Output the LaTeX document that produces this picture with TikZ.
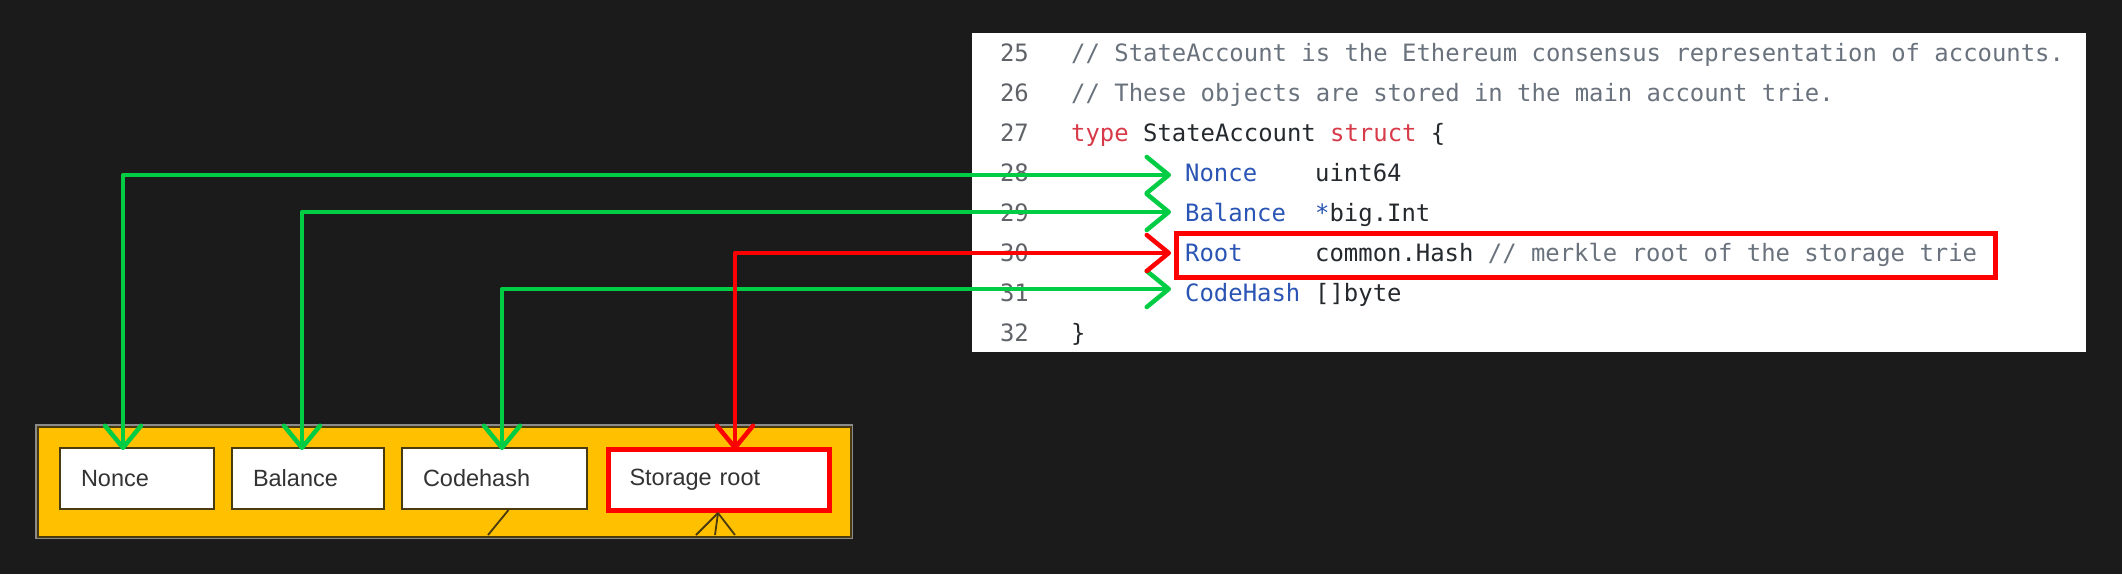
\documentclass[tikz,border=0pt]{standalone}
\usepackage{fontspec}
\setmainfont{Liberation Sans}
\newfontfamily\codefont{DejaVu Sans Mono}
\usetikzlibrary{arrows.meta}
\definecolor{bg}{HTML}{1B1B1B}
\definecolor{cmt}{HTML}{6A737D}
\definecolor{kw}{HTML}{D73A49}
\definecolor{fld}{HTML}{2A55B5}
\definecolor{txt}{HTML}{24292E}
\definecolor{lnum}{HTML}{5F6368}
\definecolor{gr}{HTML}{00CC44}
\definecolor{rd}{HTML}{FF0000}
\definecolor{orng}{HTML}{FFC000}
\definecolor{brd}{HTML}{4A3A10}
\definecolor{cgray}{HTML}{8A8A8A}
\tikzset{
  codeline/.style={anchor=west, inner sep=0pt, text=txt,
    font=\codefont\fontsize{23.9}{28}\selectfont, text height=17pt, text depth=0pt},
  lnumber/.style={codeline, anchor=east, text=lnum},
  fieldbox/.style={draw=brd, line width=2pt, fill=white, minimum height=61pt,
    inner xsep=21pt, inner ysep=0pt, align=left, text=black!80,
    font=\fontsize{23.5}{26}\selectfont, anchor=north west},
  container/.style={fill=orng, draw=cgray, line width=2pt, inner sep=0pt},
  garrow/.style={draw=gr, line width=4.5pt, line cap=round, line join=round,
    {Straight Barb[length=22pt,width=36pt,round]}-{Straight Barb[length=22pt,width=36pt,round]}},
  rarrow/.style={garrow, draw=rd},
  edge/.style={draw=brd, line width=1.8pt},
}
\begin{document}
\begin{tikzpicture}[x=1pt,y=-1pt]
\fill[bg] (0,0) rectangle (2122,574);
\useasboundingbox (0,0) rectangle (2122,574);

% code panel
\node[fill=white, inner sep=0pt, minimum width=1114pt, minimum height=319pt, anchor=north west] (panel) at (972,33) {};

\foreach \n/\y in {25/53,26/93,27/133,28/173,29/213,30/253,31/293,32/333}
  \node[lnumber] (ln\n) at (1029,\y) {\n};

\node[codeline] (c25) at (1071,53) {\textcolor{cmt}{// StateAccount is the Ethereum consensus representation of accounts.}};
\node[codeline] (c26) at (1071,93) {\textcolor{cmt}{// These objects are stored in the main account trie.}};
\node[codeline] (c27) at (1071,133) {\textcolor{kw}{type} StateAccount \textcolor{kw}{struct} \{};
\node[codeline, text=fld] (fNonce) at (1185,173) {Nonce};
\node[codeline] (tNonce) at (1315,173) {uint64};
\node[codeline, text=fld] (fBalance) at (1185,213) {Balance};
\node[codeline] (tBalance) at (1315,213) {\textcolor{fld}{*}big.Int};
\node[codeline, text=fld] (fRoot) at (1185,253) {Root};
\node[codeline] (tRoot) at (1315,253) {common.Hash \textcolor{cmt}{// merkle root of the storage trie}};
\node[codeline, text=fld] (fCode) at (1185,293) {CodeHash};
\node[codeline] (tCode) at (1315,293) {[]byte};
\node[codeline] (c32) at (1071,333) {\}};

% red highlight around Root line
\node[draw=rd, line width=5pt, inner sep=0pt, minimum width=819pt, minimum height=44pt, anchor=north west] (rootbox) at (1174,231) {};

% account container and fields
\node[container, minimum width=816pt, minimum height=113pt, anchor=north west] (acct) at (35,424) {};
\draw[brd, line width=2pt] ([shift={(2.5pt,-2.5pt)}]acct.north west) rectangle ([shift={(-2.5pt,2.5pt)}]acct.south east);

\node[fieldbox, text width=112pt] (bNonce) at (59,447) {Nonce};
\node[fieldbox, text width=110pt] (bBalance) at (231,447) {Balance};
\node[fieldbox, text width=143pt] (bCode) at (401,447) {Codehash};
\node[fieldbox, draw=rd, line width=5pt, text width=179pt] (bStorage) at (606,447) {Storage root};

% cropped tree edges below boxes
\coordinate (e1) at (488,535);
\coordinate (e2) at (696,535);
\coordinate (e3) at (715,535);
\coordinate (e4) at (735,535);
\draw[edge] ([xshift=14pt]bCode.south) -- (e1);
\draw[edge] ([xshift=-1pt]bStorage.south) -- (e2);
\draw[edge] ([xshift=-1pt]bStorage.south) -- (e3);
\draw[edge] ([xshift=-1pt]bStorage.south) -- (e4);

% connectors
\coordinate (aNonce) at (1171,175);
\coordinate (aBalance) at (1171,212);
\coordinate (aRoot) at (1171,253);
\coordinate (aCode) at (1171,289);
\draw[garrow] ([xshift=64pt,yshift=-3pt]bNonce.north west) |- (aNonce);
\draw[garrow] ([xshift=71pt,yshift=-3pt]bBalance.north west) |- (aBalance);
\draw[garrow] ([xshift=101pt,yshift=-3pt]bCode.north west) |- (aCode);
\draw[rarrow] ([xshift=129pt,yshift=-3pt]bStorage.north west) |- (aRoot);
\end{tikzpicture}
\end{document}
